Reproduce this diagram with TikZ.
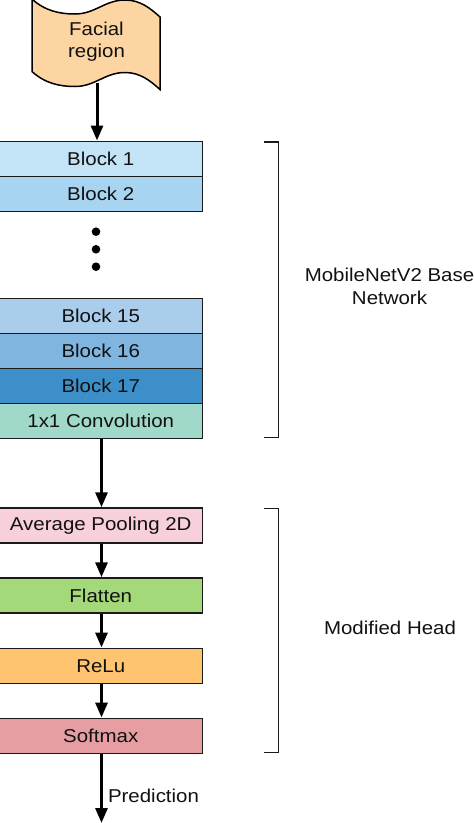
\documentclass[tikz,border=0pt]{standalone}
\usepackage{fontspec}
\setmainfont{Liberation Sans}[FakeStretch=1.1]
\usetikzlibrary{arrows.meta}
\definecolor{tapec}{HTML}{FDD5A3}
\definecolor{bA}{HTML}{C3E3F6}
\definecolor{bB}{HTML}{A7D4F1}
\definecolor{bC}{HTML}{A9CDEB}
\definecolor{bD}{HTML}{80B5E0}
\definecolor{bE}{HTML}{3C8FC8}
\definecolor{convc}{HTML}{A0D8CA}
\definecolor{avgc}{HTML}{F8D0DC}
\definecolor{flatc}{HTML}{A4D97A}
\definecolor{reluc}{HTML}{FFC470}
\definecolor{softc}{HTML}{E69EA3}
\definecolor{edgec}{HTML}{1A1A1A}
\definecolor{txtc}{HTML}{111111}
\begin{document}
\begin{tikzpicture}[x=1pt,y=-1pt,
  every node/.style={text=txtc,font=\fontsize{18.6}{22.5}\selectfont},
  layer/.style={draw=edgec,line width=1.5pt,minimum width=203.5pt,minimum height=35pt,inner sep=0pt},
  flow/.style={line width=3pt,draw=black,-{Triangle[length=15pt,width=12pt]}},
  brk/.style={line width=1.5pt,draw=edgec},
  dotn/.style={circle,fill=black,minimum size=8.6pt,inner sep=0pt}]
\useasboundingbox (0,0) rectangle (474,823);
% input tape
\path[fill=tapec,draw=black,line width=1.5pt]
  (32,-1) .. controls (45,11) and (60,14) .. (75,14)
  .. controls (95,14) and (105,0) .. (125,0)
  .. controls (140,0) and (150,8) .. (160,17)
  -- (160,89.5)
  .. controls (150,80.5) and (140,72.5) .. (125,72.5)
  .. controls (105,72.5) and (95,86.5) .. (75,86.5)
  .. controls (60,86.5) and (45,83.5) .. (32,71.5) -- cycle;
\node[align=center] (face) at (96.5,41.5) {Facial\\region};
\coordinate (tapebot) at (97,83);
% base network
\node[layer,fill=bA] (b1) at (100.75,158.75) {Block 1};
\node[layer,fill=bB] (b2) at (100.75,193.75) {Block 2};
\node[dotn] (d1) at (96,231.7) {};
\node[dotn] (d2) at (96,249.3) {};
\node[dotn] (d3) at (96,266.7) {};
\node[layer,fill=bC] (b15) at (100.75,315.8) {Block 15};
\node[layer,fill=bD] (b16) at (100.75,350.8) {Block 16};
\node[layer,fill=bE] (b17) at (100.75,385.8) {Block 17};
\node[layer,fill=convc] (conv) at (100.75,420.8) {1x1 Convolution};
% head
\node[layer,fill=avgc] (avg) at (100.75,525.5) {Average Pooling 2D};
\node[layer,fill=flatc] (flat) at (100.75,595.5) {Flatten};
\node[layer,fill=reluc] (relu) at (100.75,665.8) {ReLu};
\node[layer,fill=softc] (soft) at (100.75,735.8) {Softmax};
\coordinate (predend) at (101.5,823);
% connectors
\draw[flow] (tapebot) -- (tapebot |- b1.north);
\draw[flow] (conv.south -| 101.5,0) -- (avg.north -| 101.5,0);
\draw[flow] (avg.south -| 101.5,0) -- (flat.north -| 101.5,0);
\draw[flow] (flat.south -| 101.5,0) -- (relu.north -| 101.5,0);
\draw[flow] (relu.south -| 101.5,0) -- (soft.north -| 101.5,0);
\draw[flow] (soft.south -| predend) -- (predend)
  node[pos=0.6,anchor=west,inner sep=0pt,xshift=5pt] (pred) {Prediction};
% brackets
\coordinate (k1a) at (264,142);
\coordinate (k1b) at (264,437.5);
\coordinate (k2a) at (264,508.5);
\coordinate (k2b) at (264,752.5);
\draw[brk] (k1a) -- ++(14.5,0) |- (k1b);
\draw[brk] (k2a) -- ++(14.5,0) |- (k2b);
\node[align=center] (basel) at (389.5,286.5) {MobileNetV2 Base\\Network};
\node (headl) at (390,628) {Modified Head};
\end{tikzpicture}
\end{document}
